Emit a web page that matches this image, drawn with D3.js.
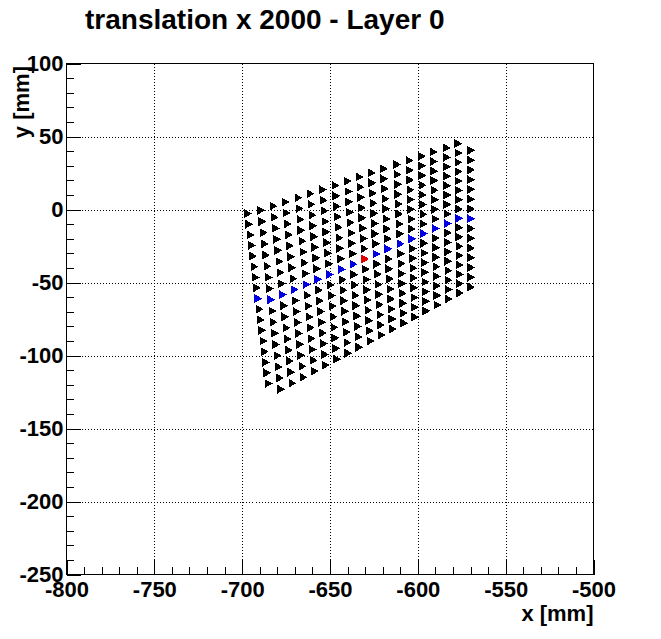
<!DOCTYPE html>
<html>
<head>
<meta charset="utf-8">
<script src="https://cdnjs.cloudflare.com/ajax/libs/d3/7.8.5/d3.min.js"></script>
<style>
body{margin:0;background:#fff;}
svg{display:block;font-family:"Liberation Sans",Arial,sans-serif;font-weight:bold;}
</style>
</head>
<body>
<div id="vis-container"></div>
<script>
var titleText = "translation x 2000 - Layer 0",
    xTitle = "x [mm]",
    yTitle = "y [mm]";

// axis range and labelled ticks
var xTicks = [-800,-750,-700,-650,-600,-550,-500];
var yTicks = [100,50,0,-50,-100,-150,-200,-250];

// marker columns, top to bottom (mm)
var colX = [
[-697.2,-696.5,-695.7,-695.0,-694.3,-693.5,-692.8,-692.1,-691.4,-690.6,-689.9,-689.2,-688.4,-687.7,-687.0,-686.2,-685.5],
[-689.7,-689.0,-688.3,-687.6,-686.9,-686.1,-685.4,-684.7,-684.0,-683.3,-682.6,-681.9,-681.2,-680.4,-679.7,-679.0,-678.3],
[-682.7,-682.0,-681.4,-680.7,-680.0,-679.3,-678.7,-678.0,-677.3,-676.6,-676.0,-675.3,-674.6,-673.9,-673.3,-672.6,-671.9],
[-675.8,-675.2,-674.5,-673.9,-673.3,-672.6,-672.0,-671.3,-670.7,-670.1,-669.4,-668.8,-668.2,-667.5,-666.9,-666.2,-665.6],
[-668.5,-667.9,-667.3,-666.8,-666.2,-665.6,-665.0,-664.4,-663.9,-663.3,-662.7,-662.1,-661.5,-661.0,-660.4,-659.8,-659.2],
[-661.6,-661.1,-660.5,-660.0,-659.4,-658.9,-658.3,-657.8,-657.3,-656.7,-656.2,-655.6,-655.1,-654.5,-654.0,-653.4,-652.9],
[-654.6,-654.1,-653.6,-653.1,-652.6,-652.1,-651.6,-651.1,-650.6,-650.0,-649.5,-649.0,-648.5,-648.0,-647.5,-647.0,-646.5],
[-647.4,-646.9,-646.5,-646.0,-645.6,-645.1,-644.7,-644.2,-643.8,-643.3,-642.8,-642.4,-641.9,-641.5,-641.0,-640.6,-640.1],
[-640.4,-640.0,-639.6,-639.2,-638.8,-638.3,-637.9,-637.5,-637.1,-636.7,-636.3,-635.9,-635.5,-635.0,-634.6,-634.2,-633.8],
[-633.6,-633.2,-632.8,-632.4,-632.1,-631.7,-631.3,-630.9,-630.5,-630.1,-629.7,-629.3,-629.0,-628.6,-628.2,-627.8,-627.4],
[-626.8,-626.4,-626.1,-625.7,-625.4,-625.0,-624.7,-624.3,-624.0,-623.6,-623.2,-622.9,-622.5,-622.2,-621.8,-621.5,-621.1],
[-619.9,-619.6,-619.3,-618.9,-618.6,-618.3,-618.0,-617.6,-617.3,-617.0,-616.7,-616.3,-616.0,-615.7,-615.4,-615.0,-614.7],
[-612.3,-612.1,-611.8,-611.6,-611.3,-611.1,-610.8,-610.6,-610.3,-610.1,-609.8,-609.6,-609.3,-609.1,-608.8,-608.6,-608.3],
[-605.3,-605.1,-604.9,-604.7,-604.5,-604.3,-604.1,-603.9,-603.7,-603.4,-603.2,-603.0,-602.8,-602.6,-602.4,-602.2,-602.0],
[-598.3,-598.1,-598.0,-597.8,-597.7,-597.5,-597.3,-597.2,-597.0,-596.8,-596.7,-596.5,-596.4,-596.2,-596.0,-595.9,-595.7],
[-591.5,-591.4,-591.2,-591.1,-591.0,-590.8,-590.7,-590.5,-590.4,-590.3,-590.1,-590.0,-589.9,-589.7,-589.6,-589.4,-589.3],
[-584.1,-584.0,-584.0,-583.9,-583.8,-583.7,-583.7,-583.6,-583.5,-583.4,-583.4,-583.3,-583.2,-583.1,-583.1,-583.0,-582.9],
[-577.5,-577.4,-577.4,-577.3,-577.3,-577.2,-577.1,-577.1,-577.0,-576.9,-576.9,-576.8,-576.8,-576.7,-576.6,-576.6,-576.5],
[-570.2,-570.2,-570.2,-570.2,-570.2,-570.2,-570.2,-570.2,-570.2,-570.2,-570.2,-570.2,-570.2,-570.2,-570.2]
];
var colY = [
[-2.8,-10.1,-17.4,-24.6,-31.9,-39.2,-46.5,-53.7,-61.0,-68.3,-75.6,-82.8,-90.1,-97.4,-104.7,-111.9,-119.2],
[-0.6,-8.3,-15.9,-23.6,-31.2,-38.9,-46.5,-54.2,-61.8,-69.5,-77.2,-84.8,-92.5,-100.1,-107.8,-115.4,-123.1],
[2.3,-5.3,-12.9,-20.4,-28.0,-35.6,-43.2,-50.8,-58.3,-65.9,-73.5,-81.1,-88.7,-96.3,-103.8,-111.4,-119.0],
[5.1,-2.4,-9.9,-17.4,-24.9,-32.4,-39.9,-47.4,-54.9,-62.4,-69.9,-77.4,-84.9,-92.4,-99.9,-107.4,-114.9],
[8.0,0.6,-6.8,-14.3,-21.7,-29.1,-36.5,-43.9,-51.4,-58.8,-66.2,-73.6,-81.0,-88.5,-95.9,-103.3,-110.7],
[10.8,3.5,-3.9,-11.2,-18.6,-25.9,-33.2,-40.6,-47.9,-55.2,-62.6,-69.9,-77.3,-84.6,-91.9,-99.3,-106.6],
[13.6,6.3,-0.9,-8.2,-15.4,-22.7,-29.9,-37.2,-44.5,-51.7,-59.0,-66.2,-73.5,-80.7,-88.0,-95.2,-102.5],
[16.5,9.3,2.1,-5.0,-12.2,-19.4,-26.6,-33.8,-41.0,-48.1,-55.3,-62.5,-69.7,-76.9,-84.0,-91.2,-98.4],
[19.4,12.3,5.2,-1.9,-9.0,-16.1,-23.2,-30.3,-37.5,-44.6,-51.7,-58.8,-65.9,-73.0,-80.1,-87.2,-94.3],
[22.3,15.3,8.3,1.2,-5.8,-12.8,-19.9,-26.9,-33.9,-40.9,-48.0,-55.0,-62.0,-69.0,-76.1,-83.1,-90.1],
[25.1,18.2,11.2,4.3,-2.7,-9.6,-16.6,-23.5,-30.5,-37.4,-44.3,-51.3,-58.2,-65.2,-72.1,-79.1,-86.0],
[27.9,21.0,14.2,7.3,0.5,-6.4,-13.3,-20.1,-27.0,-33.9,-40.7,-47.6,-54.5,-61.3,-68.2,-75.0,-81.9],
[30.8,24.0,17.2,10.4,3.7,-3.1,-9.9,-16.7,-23.5,-30.3,-37.1,-43.9,-50.7,-57.4,-64.2,-71.0,-77.8],
[33.6,26.9,20.2,13.5,6.8,0.1,-6.6,-13.3,-20.1,-26.8,-33.5,-40.2,-46.9,-53.6,-60.3,-67.0,-73.7],
[36.5,29.9,23.3,16.6,10.0,3.4,-3.3,-9.9,-16.5,-23.1,-29.8,-36.4,-43.0,-49.6,-56.3,-62.9,-69.5],
[39.4,32.9,26.3,19.8,13.2,6.7,0.1,-6.5,-13.0,-19.6,-26.1,-32.7,-39.2,-45.8,-52.3,-58.9,-65.4],
[42.2,35.7,29.3,22.8,16.3,9.9,3.4,-3.1,-9.6,-16.0,-22.5,-29.0,-35.4,-41.9,-48.4,-54.8,-61.3],
[45.1,38.7,32.3,25.9,19.5,13.1,6.7,0.3,-6.1,-12.4,-18.8,-25.2,-31.6,-38.0,-44.4,-50.8,-57.2],
[40.5,33.8,27.1,20.4,13.8,7.1,0.4,-6.3,-13.0,-19.7,-26.4,-33.0,-39.7,-46.4,-53.1]
];

// which marker of each column is the middle (blue) row, and the centre (red) one
var blueIdx = [8,8,8,8,8,8,8,8,8,8,8,8,8,8,8,8,8,8,7];
var redCol = 9, redIdx = 8;

var W = 661, H = 639;
var frame = {left:66.5, right:593.5, top:63.5, bottom:574.5};

var svg = d3.select("#vis-container")
  .append("svg")
  .attr("width", W)
  .attr("height", H);

svg.append("rect").attr("width", W).attr("height", H).attr("fill", "#fff");

var x = d3.scaleLinear().domain([-800,-500]).range([frame.left, frame.right]);
var y = d3.scaleLinear().domain([-250,100]).range([frame.bottom, frame.top]);

// plain hyphen for negative labels, like the original
var fmt = d => String(d);

//dotted grid at the labelled ticks
var grid = svg.append("g")
  .attr("stroke", "#000")
  .attr("stroke-width", 1)
  .attr("stroke-dasharray", "1,2")
  .attr("shape-rendering", "crispEdges");

grid.selectAll("line.gx")
  .data(xTicks.slice(1, -1))
  .enter().append("line")
  .attr("class", "gx")
  .attr("x1", d => Math.round(x(d)) + 0.5).attr("x2", d => Math.round(x(d)) + 0.5)
  .attr("y1", frame.top).attr("y2", frame.bottom);

grid.selectAll("line.gy")
  .data(yTicks.slice(1, -1))
  .enter().append("line")
  .attr("class", "gy")
  .attr("y1", d => Math.round(y(d)) + 0.5).attr("y2", d => Math.round(y(d)) + 0.5)
  .attr("x1", frame.left).attr("x2", frame.right);

//axes, ticks drawn inside the frame
function styleAxis(g){
  g.select(".domain").remove();
  g.attr("font-family", null).attr("font-size", 22).attr("font-weight", "bold");
  g.selectAll("line").attr("shape-rendering", "crispEdges").attr("stroke", "#000");
  g.selectAll("text").attr("fill", "#000");
}

svg.append("g")
  .attr("transform", "translate(0," + frame.bottom + ")")
  .call(d3.axisBottom(x).tickValues(d3.range(-800, -499, 10)).tickSize(-7.5).tickFormat(""))
  .call(styleAxis);
svg.append("g")
  .attr("transform", "translate(0," + frame.bottom + ")")
  .call(d3.axisBottom(x).tickValues(xTicks).tickSize(-15).tickPadding(7).tickFormat(fmt))
  .call(styleAxis);

svg.append("g")
  .attr("transform", "translate(" + frame.left + ",0)")
  .call(d3.axisLeft(y).tickValues(d3.range(-250, 101, 10)).tickSize(-7).tickFormat(""))
  .call(styleAxis);
svg.append("g")
  .attr("transform", "translate(" + frame.left + ",0)")
  .call(d3.axisLeft(y).tickValues(yTicks).tickSize(-14).tickPadding(3).tickFormat(fmt))
  .call(styleAxis);

//frame box
svg.append("rect")
  .attr("x", frame.left).attr("y", frame.top)
  .attr("width", frame.right - frame.left).attr("height", frame.bottom - frame.top)
  .attr("fill", "none").attr("stroke", "#000")
  .attr("shape-rendering", "crispEdges");

//markers: right pointing triangles
var tri = "M-3,-4.5L5,0L-3,4.5Z";

var points = [];
colX.forEach(function(xs, c){
  xs.forEach(function(v, i){
    var kind = "black";
    if(i === blueIdx[c]) kind = (c === redCol && i === redIdx) ? "red" : "blue";
    points.push({x: v, y: colY[c][i], kind: kind});
  });
});
var colour = {black: "#000", blue: "#0000e0", red: "#e00000"};

svg.append("g")
  .selectAll("path")
  .data(points)
  .enter()
  .append("path")
  .attr("d", tri)
  .attr("transform", d => "translate(" + x(d.x) + "," + y(d.y) + ")")
  .attr("fill", d => colour[d.kind])
  .attr("shape-rendering", "crispEdges");

//titles
svg.append("text")
  .attr("x", 85).attr("y", 29)
  .attr("font-size", 28)
  .text(titleText);

svg.append("text")
  .attr("x", frame.right).attr("y", 621)
  .attr("text-anchor", "end")
  .attr("font-size", 22)
  .text(xTitle);

svg.append("text")
  .attr("transform", "translate(29,66) rotate(-90)")
  .attr("text-anchor", "end")
  .attr("font-size", 22)
  .text(yTitle);
</script>
</body>
</html>
